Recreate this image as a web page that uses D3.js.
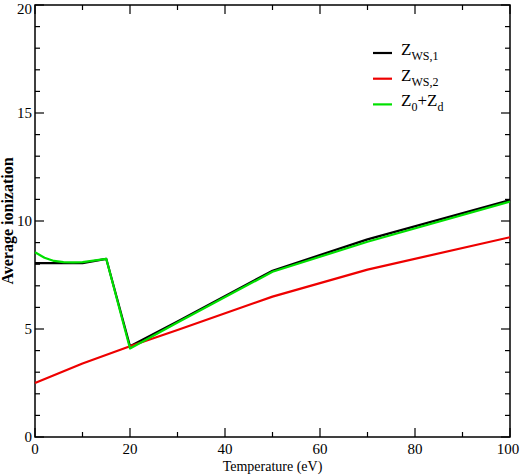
<!DOCTYPE html>
<html>
<head>
<meta charset="utf-8">
<script src="https://cdn.jsdelivr.net/npm/d3@7"></script>
<style>
  body { margin: 0; background: #fff; }
  svg text { font-family: "Liberation Serif", "DejaVu Serif", serif; }
</style>
</head>
<body>
<div id="chart"></div>
<script>
// temperature (eV) and average ionization
const tempWS1 = [0, 10, 15, 20, 30, 50, 70, 100];
const zWS1 = [8.05, 8.05, 8.25, 4.2, 5.35, 7.7, 9.15, 10.97];

const tempWS2 = [0, 5, 10, 20, 30, 50, 70, 100];
const zWS2 = [2.5, 2.95, 3.4, 4.2, 4.95, 6.5, 7.75, 9.25];

const tempZ0 = [0, 2, 4, 6, 8, 10, 15, 20, 30, 50, 70, 100];
const zZ0 = [8.55, 8.3, 8.15, 8.1, 8.08, 8.1, 8.25, 4.1, 5.3, 7.65, 9.04, 10.9];

const xTicks = [0, 20, 40, 60, 80, 100];
const yTicks = [0, 5, 10, 15, 20];

const seriesNames = ['WS,1', 'WS,2', '0+d'];
const seriesColors = ['#000000', '#ee0000', '#00e000'];

const W = 520, H = 476;
const margin = { top: 5, right: 10, bottom: 39, left: 35 };

const svg = d3.select('#chart').append('svg')
    .attr('width', W)
    .attr('height', H);

const x = d3.scaleLinear().domain([0, 100]).range([margin.left, W - margin.right]);
const y = d3.scaleLinear().domain([0, 20]).range([H - margin.bottom, margin.top]);

// frame
svg.append('rect')
    .attr('x', x(0)).attr('y', y(20))
    .attr('width', x(100) - x(0)).attr('height', y(0) - y(20))
    .attr('fill', 'none').attr('stroke', '#000').attr('stroke-width', 1.5);

// ticks pointing inward on all four sides
const xMinor = d3.range(0, 101, 10);
const yMinor = d3.range(0, 21, 1);
function tickLen(v, step) { return v % step === 0 ? 9 : 5; }

const tickG = svg.append('g').attr('stroke', '#000').attr('stroke-width', 1.2);
xMinor.forEach(function(v) {
    const l = tickLen(v, 20);
    tickG.append('line').attr('x1', x(v)).attr('x2', x(v)).attr('y1', y(0)).attr('y2', y(0) - l);
    tickG.append('line').attr('x1', x(v)).attr('x2', x(v)).attr('y1', y(20)).attr('y2', y(20) + l);
});
yMinor.forEach(function(v) {
    const l = tickLen(v, 5);
    tickG.append('line').attr('y1', y(v)).attr('y2', y(v)).attr('x1', x(0)).attr('x2', x(0) + l);
    tickG.append('line').attr('y1', y(v)).attr('y2', y(v)).attr('x1', x(100)).attr('x2', x(100) - l);
});

// tick labels
svg.selectAll('.xlab').data(xTicks).enter().append('text')
    .attr('x', d => Math.min(x(d), W - 12)).attr('y', y(0) + 17)
    .attr('text-anchor', 'middle')
    .attr('font-size', 15)
    .text(d => d);

svg.selectAll('.ylab').data(yTicks).enter().append('text')
    .attr('x', x(0) - 3).attr('y', d => Math.max(y(d) + 5, 14))
    .attr('text-anchor', 'end')
    .attr('font-size', 15)
    .text(d => d);

// axis titles
svg.append('text')
    .attr('x', (x(0) + x(100)) / 2).attr('y', H - 5)
    .attr('text-anchor', 'middle')
    .attr('font-size', 14)
    .text('Temperature (eV)');

svg.append('text')
    .attr('transform', 'translate(13,' + ((y(0) + y(20)) / 2) + ') rotate(-90)')
    .attr('text-anchor', 'middle')
    .attr('font-size', 16)
    .attr('font-weight', 'bold')
    .text('Average ionization');

// curves
const line = d3.line().x(d => x(d[0])).y(d => y(d[1]));
const curves = [
    d3.zip(tempWS1, zWS1),
    d3.zip(tempWS2, zWS2),
    d3.zip(tempZ0, zZ0)
];
curves.forEach(function(pts, i) {
    svg.append('path')
        .datum(pts)
        .attr('d', line)
        .attr('fill', 'none')
        .attr('stroke', seriesColors[i])
        .attr('stroke-width', 2.2)
        .attr('stroke-linejoin', 'round');
});

// legend
const legend = svg.append('g').attr('transform', 'translate(373,53)');
seriesNames.forEach(function(name, i) {
    const g = legend.append('g').attr('transform', 'translate(0,' + (i * 25.7) + ')');
    g.append('line').attr('x1', 0).attr('x2', 19).attr('y1', 0).attr('y2', 0)
        .attr('stroke', seriesColors[i]).attr('stroke-width', 2.2);
    const t = g.append('text').attr('x', 28).attr('y', 2).attr('font-size', 17);
    if (i < 2) {
        t.append('tspan').text('Z');
        t.append('tspan').attr('font-size', 12).attr('dy', 5).text(name);
    } else {
        t.append('tspan').text('Z');
        t.append('tspan').attr('font-size', 12).attr('dy', 5).text('0');
        t.append('tspan').attr('dy', -5).text('+Z');
        t.append('tspan').attr('font-size', 12).attr('dy', 5).text('d');
    }
});
</script>
</body>
</html>
